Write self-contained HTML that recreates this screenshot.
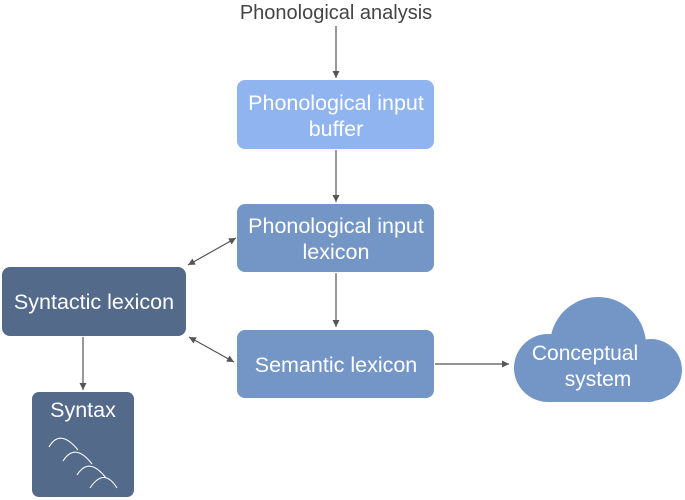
<!DOCTYPE html>
<html><head><meta charset="utf-8"><style>
html,body{margin:0;padding:0;background:#fff;}
svg{display:block;}
text{font-family:"Liberation Sans",sans-serif;}
</style></head><body>
<svg width="685" height="500" viewBox="0 0 685 500">
<defs>
<marker id="a" markerWidth="8" markerHeight="8" refX="7" refY="4" orient="auto-start-reverse" markerUnits="userSpaceOnUse">
<path d="M0,0.5 L7,4 L0,7.5 Z" fill="#555"/>
</marker>
</defs>
<text x="336" y="19" font-size="20" fill="#444" text-anchor="middle">Phonological analysis</text>
<line x1="336" y1="26" x2="336" y2="78" stroke="#555" stroke-width="1.2" marker-end="url(#a)"/>
<rect x="237" y="80" width="197" height="69" rx="8" fill="#8fb4ef"/>
<text x="336" y="110" font-size="21.5" fill="#fff" text-anchor="middle">Phonological input</text>
<text x="336" y="136" font-size="21.5" fill="#fff" text-anchor="middle">buffer</text>
<line x1="336" y1="150" x2="336" y2="202" stroke="#555" stroke-width="1.2" marker-end="url(#a)"/>
<rect x="237" y="204" width="197" height="68" rx="8" fill="#7496c7"/>
<text x="336" y="233" font-size="21.5" fill="#fff" text-anchor="middle">Phonological input</text>
<text x="336" y="259" font-size="21.5" fill="#fff" text-anchor="middle">lexicon</text>
<line x1="336" y1="273" x2="336" y2="327" stroke="#555" stroke-width="1.2" marker-end="url(#a)"/>
<rect x="237" y="330" width="197" height="68" rx="8" fill="#7496c7"/>
<text x="336" y="372" font-size="21.5" fill="#fff" text-anchor="middle">Semantic lexicon</text>
<line x1="435" y1="364" x2="509" y2="364" stroke="#555" stroke-width="1.2" marker-end="url(#a)"/>
<rect x="2" y="267" width="184" height="69" rx="8" fill="#536a8a"/>
<text x="94" y="309" font-size="21.5" fill="#fff" text-anchor="middle">Syntactic lexicon</text>
<line x1="188" y1="265" x2="236" y2="238" stroke="#555" stroke-width="1.2" marker-start="url(#a)" marker-end="url(#a)"/>
<line x1="189" y1="337" x2="234" y2="362" stroke="#555" stroke-width="1.2" marker-start="url(#a)" marker-end="url(#a)"/>
<line x1="83" y1="337" x2="83" y2="390" stroke="#555" stroke-width="1.2" marker-end="url(#a)"/>
<rect x="32" y="392" width="102" height="105" rx="7" fill="#536a8a"/>
<text x="83" y="417" font-size="21.5" fill="#fff" text-anchor="middle">Syntax</text>
<g fill="none" stroke="#fff" stroke-width="1.1">
<path d="M49,447 Q60,428 78,450"/>
<path d="M63,461 Q75,442 92,464"/>
<path d="M77,475 Q89,456 106,478"/>
<path d="M90,488 Q104,467 117,488"/>
</g>
<g fill="#7496c7">
<circle cx="598" cy="345" r="48"/>
<circle cx="548" cy="368" r="34"/>
<circle cx="651" cy="370" r="31"/>
<rect x="540" y="360" width="120" height="42" rx="10"/>
</g>
<text x="585" y="360" font-size="21" fill="#fff" text-anchor="middle">Conceptual</text>
<text x="598" y="386" font-size="21" fill="#fff" text-anchor="middle">system</text>
</svg>
</body></html>
